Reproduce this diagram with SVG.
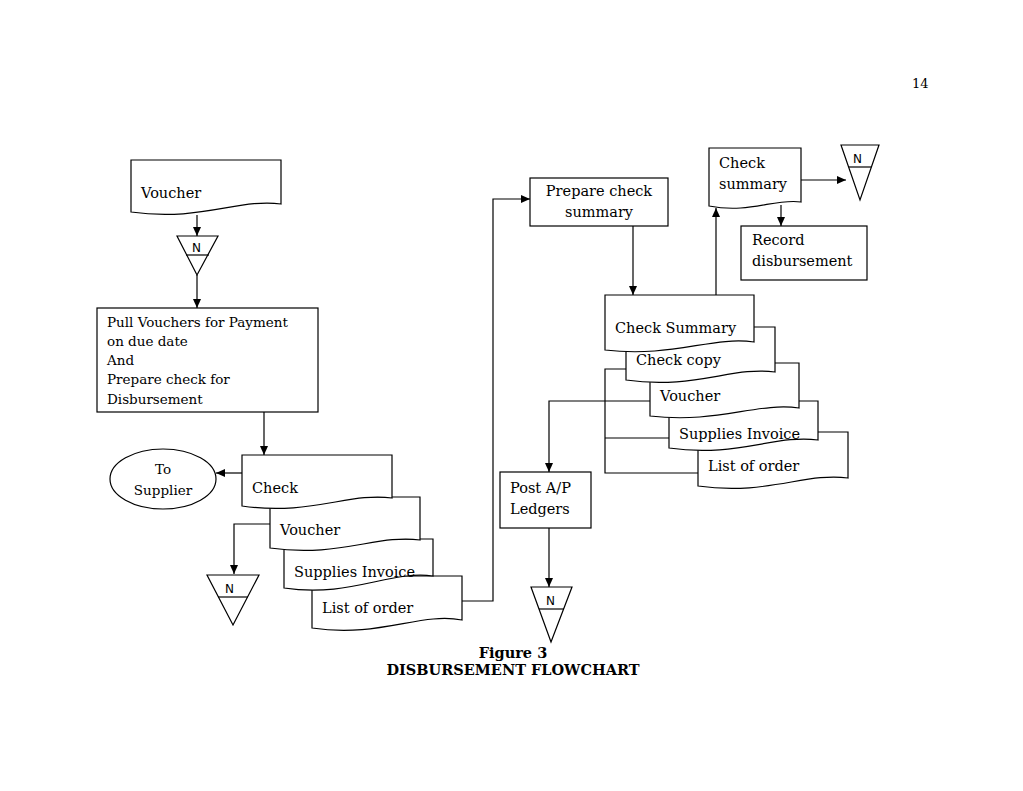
<svg xmlns="http://www.w3.org/2000/svg" width="1023" height="791" viewBox="0 0 1023 791">
<style>
.s{fill:#fff;stroke:#000;stroke-width:1.2}
.l{fill:none;stroke:#000;stroke-width:1.2}
text{font-family:"DejaVu Serif","Liberation Serif",serif;font-size:14.5px;fill:#000}
.n{font-family:"DejaVu Sans",sans-serif;font-size:12px}
.b{font-weight:bold;text-anchor:middle}
</style>
<defs><marker id="a" markerWidth="10" markerHeight="10" refX="9" refY="5" orient="auto" markerUnits="userSpaceOnUse"><path d="M0,1 L9,5 L0,9Z"/></marker></defs>
<rect width="1023" height="791" fill="#fff"/>
<text x="912" y="88" style="font-size:13px">14</text>
<g id="connectors">
<path class="l" marker-end="url(#a)" d="M197,215V236"/>
<path class="l" marker-end="url(#a)" d="M197,275V308"/>
<path class="l" marker-end="url(#a)" d="M264,412V455"/>
<path class="l" marker-end="url(#a)" d="M242,473H216"/>
<path class="l" marker-end="url(#a)" d="M270,524H234V574"/>
<path class="l" marker-end="url(#a)" d="M462,601H493V199H530"/>
<path class="l" marker-end="url(#a)" d="M633,226V295"/>
<path class="l" marker-end="url(#a)" d="M716,295V208"/>
<path class="l" marker-end="url(#a)" d="M801,180H846"/>
<path class="l" marker-end="url(#a)" d="M781,205V226"/>
<path class="l" d="M626,369H605V473H698M605,438H669"/>
<path class="l" marker-end="url(#a)" d="M650,401H549V472"/>
<path class="l" marker-end="url(#a)" d="M549,528V587"/>
</g>
<g id="voucher1"><path class="s" d="M131,160H281V204C240,198 200,222 131,212Z"/><text x="141" y="198">Voucher</text></g>
<g id="n1"><path class="s" d="M177,236H218L197,275Z"/><path class="l" d="M186,255H209"/><text class="n" x="192" y="252">N</text></g>
<g id="pull"><rect class="s" x="97" y="308" width="221" height="104"/>
<text x="107" y="327" style="font-size:13.5px">Pull Vouchers for Payment</text>
<text x="107" y="346" style="font-size:13.5px">on due date</text>
<text x="107" y="365" style="font-size:13.5px">And</text>
<text x="107" y="384" style="font-size:13.5px">Prepare check for</text>
<text x="107" y="404" style="font-size:13.5px">Disbursement</text></g>
<g id="supplier"><ellipse class="s" cx="163" cy="479" rx="53" ry="30"/><text x="163" y="474" text-anchor="middle" style="font-size:13.5px">To</text><text x="163" y="495" text-anchor="middle" style="font-size:13.5px">Supplier</text></g>
<g id="left-docs">
<path class="s" d="M312,576H462V620C420,612 380,638 312,628Z"/><text x="322" y="613">List of order</text>
<path class="s" d="M284,539H433V576C390,570 350,598 284,588Z"/><text x="294" y="577">Supplies Invoice</text>
<path class="s" d="M270,497H420V540C378,534 338,558 270,548Z"/><text x="280" y="535">Voucher</text>
<path class="s" d="M242,455H392V498C350,492 310,516 242,506Z"/><text x="252" y="493">Check</text>
</g>
<g id="n2"><path class="s" d="M207,575H259L233,625Z"/><path class="l" d="M218,597H248"/><text class="n" x="225" y="593">N</text></g>
<g id="prepare"><rect class="s" x="530" y="178" width="138" height="48"/><text x="599" y="196" text-anchor="middle">Prepare check</text><text x="599" y="217" text-anchor="middle">summary</text></g>
<g id="checksum"><path class="s" d="M709,148H801V202C775,198 750,214 709,206Z"/><text x="719" y="168">Check</text><text x="719" y="189">summary</text></g>
<g id="n3"><path class="s" d="M841,145H879L860,200Z"/><path class="l" d="M849,167H871"/><text class="n" x="853" y="163">N</text></g>
<g id="record"><rect class="s" x="741" y="226" width="126" height="54"/><text x="752" y="245">Record</text><text x="752" y="266">disbursement</text></g>
<g id="right-docs">
<path class="s" d="M698,432H848V478C806,472 766,496 698,486Z"/><text x="708" y="471">List of order</text>
<path class="s" d="M669,401H818V440C776,434 736,458 669,448Z"/><text x="679" y="439">Supplies Invoice</text>
<path class="s" d="M650,363H799V408C757,402 717,424 650,416Z"/><text x="660" y="401">Voucher</text>
<path class="s" d="M626,327H775V372C733,366 693,390 626,380Z"/><text x="636" y="365">Check copy</text>
<path class="s" d="M605,295H754V342C712,336 672,358 605,350Z"/><text x="615" y="333">Check Summary</text>
</g>
<g id="postap"><rect class="s" x="500" y="472" width="91" height="56"/><text x="510" y="493">Post A/P</text><text x="510" y="514">Ledgers</text></g>
<g id="n4"><path class="s" d="M531,587H572L551,642Z"/><path class="l" d="M539,609H564"/><text class="n" x="546" y="605">N</text></g>
<text class="b" x="513" y="658">Figure 3</text>
<text class="b" x="513" y="675">DISBURSEMENT FLOWCHART</text>
</svg>
